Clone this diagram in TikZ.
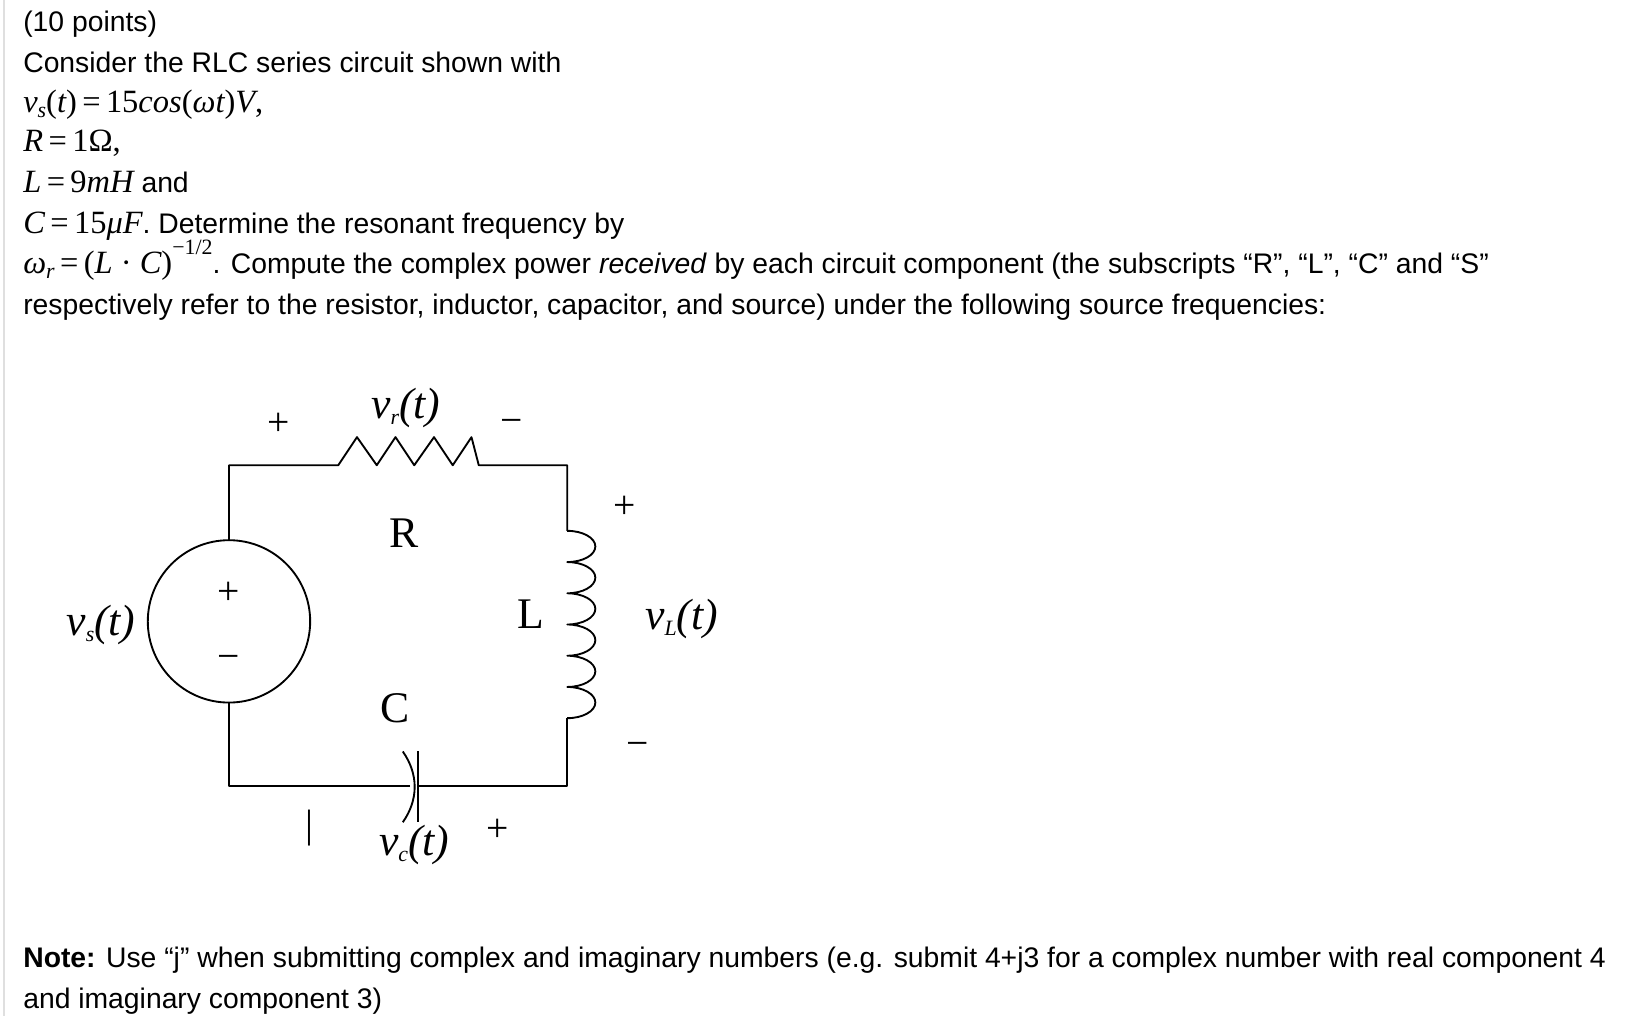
\documentclass[tikz,border=0pt]{standalone}
\usepackage{fontspec}
\setmainfont{Liberation Sans}
\newfontfamily\tms{Liberation Serif}
\newcommand{\mi}[1]{{\tms\itshape #1}}
\newcommand{\mr}[1]{{\tms #1}}
\newcommand{\eqs}{\mr{\,=\,}}
\newcommand{\msub}[1]{\raisebox{-0.3ex}{\fontsize{10.5}{11}\selectfont\tms\itshape #1}}
\begin{document}
\begin{tikzpicture}[x=0.5pt,y=-0.5pt,
 txt/.style={anchor=base west,inner sep=0pt,font=\fontsize{13.6}{15}\selectfont},
 mtxt/.style={anchor=base west,inner sep=0pt,font=\fontsize{15.6}{16}\selectfont},
 lab/.style={inner sep=0pt,font=\tms\itshape\fontsize{21}{24}\selectfont},
 ulab/.style={inner sep=0pt,font=\tms\fontsize{21}{24}\selectfont},
 sgn/.style={inner sep=0pt,font=\tms\fontsize{19}{20}\selectfont},
 wire/.style={line width=0.9pt,line join=round}]
\useasboundingbox (0,0) rectangle (1568,976);
\fill[white] (0,0) rectangle (1568,976);
\draw[gray!25,line width=1pt] (4,0) -- (4,976);
\node[txt] (t1) at (22,30) {(10 points)};
\node[txt] (t2) at (22,70) {Consider the RLC series circuit shown with};
\node[mtxt] (t3) at (22,108) {\mi{v}\msub{s}\mr{(}\mi{t}\mr{)}\eqs\mr{15}\mi{cos}\mr{(}\mi{ωt}\mr{)}\mi{V}\mr{,}};
\node[mtxt] (t4) at (22,146) {\mi{R}\eqs\mr{1Ω,}};
\node[txt] (t5) at (22,185) {{\fontsize{15.6}{16}\selectfont\mi{L}\eqs\mr{9}\mi{mH}} and};
\node[txt] (t6) at (22,224) {{\fontsize{15.6}{16}\selectfont\mi{C}\eqs\mr{15}\mi{μF}}. Determine the resonant frequency by};
\node[txt] (t7) at (22,263) {{\fontsize{15.6}{16}\selectfont\mi{ω}\msub{r}\eqs\mr{(}\mi{L}\mr{ · }\mi{C}\mr{)}\raisebox{1.1ex}{\fontsize{10.5}{11}\selectfont\tms −1/2}}. Compute the complex power \emph{received} by each circuit component (the subscripts “R”, “L”, “C” and “S”};
\node[txt] (t8) at (22,302) {respectively refer to the resistor, inductor, capacitor, and source) under the following source frequencies:};
\node[txt] (n1) at (22,930) {\textbf{Note:} Use “j” when submitting complex and imaginary numbers (e.g. submit 4+j3 for a complex number with real component 4};
\node[txt] (n2) at (22,969) {and imaginary component 3)};
% circuit
\draw[wire] (220,519) -- (220,447) -- (325,447) -- (343,420) -- (362,447) -- (380,420) -- (398,447) -- (417,420) -- (435,447) -- (453,420) -- (460,447) -- (545,447) -- (545,510);
\draw[wire] (545,510) \foreach \i in {0,...,5}{ arc[start angle=-90,end angle=90,x radius=27,y radius=15]} ;
\draw[wire] (545,690) -- (545,755) -- (402,755);
\draw[wire] (402,722) -- (402,790);
\draw[wire] (387,722) to[bend left=35] (387,790);
\draw[wire] (394,755) -- (220,755) -- (220,675);
\node[draw,circle,line width=0.9pt,minimum size=78pt,inner sep=0pt] (vs) at (220,597) {};
\node[sgn] (p1) at (268,408) {+};
\node[lab] (vr) at (390,392) {v\msub{r}(t)};
\node[sgn] (m1) at (492,410) {−};
\node[ulab] (R) at (388,512) {R};
\node[sgn] (p2) at (220,570) {+};
\node[sgn] (m2) at (220,636) {−};
\node[lab] (vsl) at (97,600) {v\msub{s}(t)};
\node[ulab] (L) at (510,590) {L};
\node[sgn] (p3) at (600,487) {+};
\node[lab] (vl) at (655,595) {v\msub{L}(t)};
\node[sgn] (m3) at (613,720) {−};
\node[ulab] (C) at (380,680) {C};
\node[sgn] (m4) at (297,796) {|};
\node[lab] (vc) at (398,812) {v\msub{c}(t)};
\node[sgn] (p4) at (478,798) {+};
\end{tikzpicture}
\end{document}
